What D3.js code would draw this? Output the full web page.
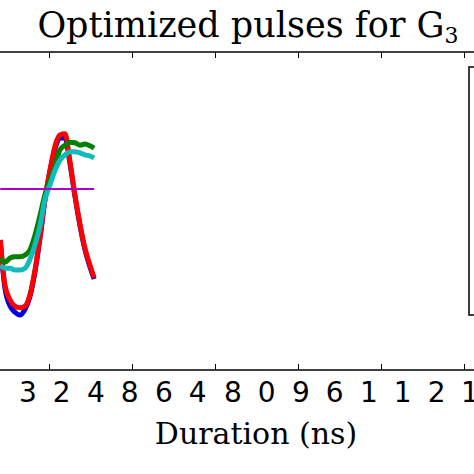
<!DOCTYPE html>
<html><head><meta charset="utf-8">
<script src="https://cdn.jsdelivr.net/npm/d3@7"></script>
<style>body{margin:0;background:#fff}</style></head>
<body><svg id="c" width="474" height="474"></svg>
<script>
const times=[6.6,7.5,8.5,9.4,10.4,11.4,12.3,13.3,14.3,15.2,16.2,17.2,18.1,19.1,20.0,21.0,22.0,22.9,23.9,24.7];
const blue=[-0.85,-1.65,-1.95,-2.05,-2.1,-2.0,-1.8,-1.38,-0.8,-0.2,0.3,0.68,0.85,0.85,0.45,-0.12,-0.62,-1.0,-1.3,-1.5];
const red=[-0.85,-1.6,-1.85,-1.95,-1.98,-1.95,-1.77,-1.35,-0.77,-0.18,0.32,0.73,0.9,0.92,0.48,-0.1,-0.6,-0.98,-1.27,-1.48];
const green=[-1.15,-1.22,-1.15,-1.13,-1.13,-1.1,-1.02,-0.77,-0.43,-0.1,0.15,0.4,0.65,0.73,0.78,0.77,0.73,0.75,0.72,0.68];
const cyan=[-1.27,-1.32,-1.32,-1.35,-1.35,-1.32,-1.18,-0.93,-0.6,-0.18,0.07,0.32,0.48,0.57,0.62,0.62,0.6,0.57,0.55,0.52];
const purple=times.map(()=>0);
const tickVals=[16,32,48,64,80,96];
const tickLabels=["32","48","64","80","96","112","1"];
const svg=d3.select("#c");
const x=d3.scaleLinear().domain([16,32]).range([49,132]);
const y=d3.scaleLinear().domain([0,1]).range([189,129]);
svg.append("g").attr("transform","translate(0,52)").call(d3.axisTop(x).tickValues(tickVals).tickSize(-6).tickFormat(""))
 .call(g=>{g.select(".domain").attr("d","M-10,0H480").attr("stroke-width",1.5);});
svg.append("g").attr("transform","translate(0,370)").call(d3.axisBottom(x).tickValues(tickVals).tickSize(-6).tickFormat(""))
 .call(g=>{g.select(".domain").attr("d","M-10,0H480").attr("stroke-width",1.5);});
const pos=[19,87,155,224,292,360,461];
svg.selectAll("text.tl").data(tickLabels).join("text").attr("class","tl")
 .attr("x",(d,i)=>pos[i]).attr("y",402)
 .attr("font-family","DejaVu Sans").attr("font-size",28).attr("letter-spacing","16px").text(d=>d);
const line=d3.line().x((d,i)=>x(times[i])).y(d=>y(d)).curve(d3.curveMonotoneX);
[[blue,"#0000dd"],[red,"#ff0000"],[green,"#008000"],[cyan,"#11bbbb"],[purple,"#aa00cc"]].forEach(([s,c])=>{
 svg.append("path").datum(s).attr("d",line).attr("fill","none").attr("stroke",c).attr("stroke-width",c=="#aa00cc"?2:5).attr("stroke-linejoin","round");
});
svg.append("rect").attr("x",469).attr("y",67).attr("width",20).attr("height",248).attr("fill","#fff").attr("stroke","#000").attr("stroke-width",1.5);
const t=svg.append("text").attr("x",248).attr("y",37).attr("text-anchor","middle").attr("font-family","DejaVu Serif").attr("font-size",35);
t.append("tspan").text("Optimized pulses for G");
t.append("tspan").attr("font-size",22).attr("dy",6).text("3");
svg.append("text").attr("x",256).attr("y",444).attr("text-anchor","middle").attr("font-family","DejaVu Serif").attr("font-size",30).text("Duration (ns)");
</script></body></html>
